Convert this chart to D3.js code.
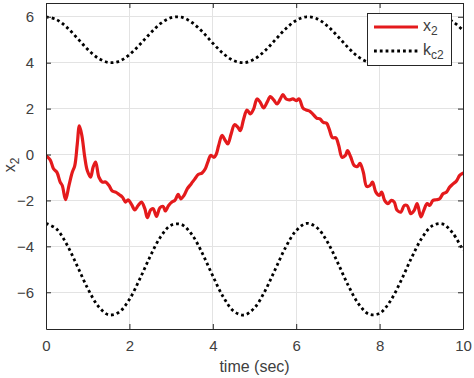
<!DOCTYPE html>
<html>
<head>
<meta charset="utf-8">
<script src="https://cdn.jsdelivr.net/npm/d3@7"></script>
<style>
  html, body { margin: 0; padding: 0; background: #fff; }
  svg { display: block; font-family: "Liberation Sans", Arial, Helvetica, sans-serif; }
</style>
</head>
<body>
<svg id="chart" width="474" height="378"></svg>
<script>
// ---- data ----
const xTicks = [0, 2, 4, 6, 8, 10];
const yTicks = [-6, -4, -2, 0, 2, 4, 6];

const x2Time = [0, 0.1, 0.18, 0.26, 0.34, 0.39, 0.47, 0.55, 0.63, 0.69, 0.75, 0.8, 0.86, 0.93, 0.99,
  1.07, 1.13, 1.19, 1.27, 1.35, 1.43, 1.51, 1.59, 1.67, 1.75, 1.83, 1.91, 1.97, 2.05, 2.13, 2.21,
  2.29, 2.37, 2.43, 2.51, 2.57, 2.65, 2.73, 2.81, 2.86, 2.94, 3.02, 3.09, 3.17, 3.23, 3.31, 3.39,
  3.48, 3.57, 3.65, 3.74, 3.82, 3.88, 3.95, 4.03, 4.08, 4.14, 4.22, 4.3, 4.36, 4.44, 4.52, 4.6,
  4.66, 4.74, 4.82, 4.9, 4.98, 5.06, 5.14, 5.22, 5.3, 5.38, 5.46, 5.54, 5.62, 5.68, 5.76, 5.83,
  5.92, 6.0, 6.07, 6.16, 6.24, 6.33, 6.41, 6.49, 6.57, 6.65, 6.73, 6.79, 6.87, 6.95, 7.02, 7.1,
  7.18, 7.23, 7.31, 7.39, 7.47, 7.53, 7.61, 7.69, 7.77, 7.83, 7.91, 7.99, 8.05, 8.12, 8.2, 8.28,
  8.35, 8.42, 8.51, 8.59, 8.66, 8.75, 8.83, 8.9, 8.99, 9.06, 9.14, 9.2, 9.28, 9.36, 9.44, 9.52,
  9.6, 9.68, 9.76, 9.84, 9.92, 10];
const x2Values = [-0.05, -0.23, -0.62, -0.77, -1.2, -1.35, -1.97, -1.35, -0.77, -0.48, 0.46, 1.25, 0.83, -0.12, -0.7,
  -0.99, -0.55, -0.33, -0.99, -1.2, -1.2, -1.35, -1.59, -1.64, -1.74, -1.85, -2.07, -1.97, -2.17, -2.41, -2.22,
  -2.07, -2.36, -2.75, -2.41, -2.36, -2.7, -2.32, -2.26, -2.46, -2.22, -2.07, -2.0, -1.74, -1.93, -1.78, -1.49,
  -1.28, -1.06, -0.87, -0.81, -0.62, -0.33, -0.04, -0.12, 0.0, 0.39, 0.83, 0.61, 0.46, 0.9, 1.3, 1.19,
  1.04, 1.55, 1.94, 1.77, 1.99, 2.42, 2.27, 2.03, 2.27, 2.52, 2.38, 2.2, 2.42, 2.61, 2.42, 2.38,
  2.42, 2.35, 2.42, 2.03, 1.94, 1.88, 1.74, 1.59, 1.55, 1.4, 1.36, 1.12, 0.73, 0.73, 0.39, -0.12,
  -0.04, 0.17, -0.12, -0.48, -0.52, -0.38, -0.77, -1.39, -1.35, -1.2, -1.64, -1.78, -1.64, -2.0, -2.14, -2.0,
  -2.07, -2.43, -2.51, -2.22, -2.22, -2.58, -2.43, -2.14, -2.72, -2.43, -2.14, -2.22, -2.0, -1.97, -1.93, -1.71,
  -1.64, -1.42, -1.28, -1.16, -0.91, -0.81];

const kTime = [0, 0.25, 0.5, 0.75, 1, 1.25, 1.5, 1.75, 2, 2.25, 2.5, 2.75, 3, 3.25, 3.5, 3.75, 4,
  4.25, 4.5, 4.75, 5, 5.25, 5.5, 5.75, 6, 6.25, 6.5, 6.75, 7, 7.25, 7.5, 7.75, 8, 8.25, 8.5, 8.75,
  9, 9.25, 9.5, 9.75, 10];
const kUpper = [6.0, 5.88, 5.54, 5.07, 4.58, 4.2, 4.01, 4.06, 4.35, 4.79, 5.28, 5.71, 5.96, 5.98, 5.75,
  5.35, 4.85, 4.4, 4.09, 4.0, 4.16, 4.52, 5.0, 5.48, 5.84, 6.0, 5.91, 5.6, 5.14, 4.65, 4.24, 4.02,
  4.04, 4.3, 4.72, 5.22, 5.66, 5.94, 5.99, 5.8, 5.41];
const kLower = [-3.0, -3.24, -3.92, -4.86, -5.83, -6.6, -6.98, -6.87, -6.31, -5.42, -4.43, -3.58, -3.08,
  -3.05, -3.49, -4.31, -5.29, -6.2, -6.82, -6.99, -6.68, -5.95, -4.99, -4.03, -3.31, -3.0, -3.19,
  -3.81, -4.73, -5.71, -6.52, -6.96, -6.92, -6.4, -5.55, -4.56, -3.68, -3.12, -3.02, -3.41, -4.18];

// ---- layout ----
const svg = d3.select("#chart");
const L = 46, R = 463, T = 3, B = 329;
const x = d3.scaleLinear().domain([0, 10]).range([L, R]);
const y = d3.scaleLinear().domain([-7.6, 6.6]).range([B, T]);
const axisColor = "#262626";
const tickColor = "#404040";

// grid
const grid = svg.append("g");
grid.selectAll(".gx").data(xTicks).join("line")
  .attr("x1", d => x(d)).attr("x2", d => x(d)).attr("y1", T).attr("y2", B)
  .attr("stroke", "#e3e3e3").attr("stroke-width", 1).attr("shape-rendering", "crispEdges");
grid.selectAll(".gy").data(yTicks).join("line")
  .attr("x1", L).attr("x2", R).attr("y1", d => y(d)).attr("y2", d => y(d))
  .attr("stroke", "#e3e3e3").attr("stroke-width", 1).attr("shape-rendering", "crispEdges");

// data lines
svg.append("clipPath").attr("id", "clip")
  .append("rect").attr("x", L).attr("y", T).attr("width", R - L).attr("height", B - T);
const plot = svg.append("g").attr("clip-path", "url(#clip)");

const kLine = d3.line().x((d, i) => x(kTime[i])).y(d => y(d)).curve(d3.curveCatmullRom);
[kUpper, kLower].forEach(arr => {
  plot.append("path").attr("d", kLine(arr)).attr("fill", "none")
    .attr("stroke", "#000").attr("stroke-width", 2.8).attr("stroke-dasharray", "2.8,3");
});

const xLine = d3.line().x((d, i) => x(x2Time[i])).y(d => y(d)).curve(d3.curveCatmullRom.alpha(0.5));
plot.append("path").attr("d", xLine(x2Values)).attr("fill", "none")
  .attr("stroke", "#e41a1c").attr("stroke-width", 3.2).attr("stroke-linejoin", "round")
  .attr("stroke-linecap", "round");

// axes (box with mirrored ticks)
const xAxisB = d3.axisBottom(x).tickValues(xTicks).tickSize(-5).tickPadding(11).tickSizeOuter(0);
const xAxisT = d3.axisTop(x).tickValues(xTicks).tickSize(-5).tickFormat("").tickSizeOuter(0);
const yAxisL = d3.axisLeft(y).tickValues(yTicks).tickSize(-5).tickPadding(12).tickSizeOuter(0);
const yAxisR = d3.axisRight(y).tickValues(yTicks).tickSize(-5).tickFormat("").tickSizeOuter(0);

function style(g) {
  g.selectAll("path.domain").attr("stroke", axisColor).attr("stroke-width", 1);
  g.selectAll(".tick line").attr("stroke", axisColor);
  g.selectAll(".tick text").attr("fill", tickColor).style("font-size", "15px")
    .style("font-family", "'Liberation Sans', Arial, sans-serif");
}
svg.append("g").attr("transform", `translate(0,${B})`).call(xAxisB).call(style);
svg.append("g").attr("transform", `translate(0,${T})`).call(xAxisT).call(style);
svg.append("g").attr("transform", `translate(${L},0)`).call(yAxisL).call(style);
svg.append("g").attr("transform", `translate(${R},0)`).call(yAxisR).call(style);

// axis labels
svg.append("text").attr("x", (L + R) / 2).attr("y", 372).attr("text-anchor", "middle")
  .attr("fill", tickColor).style("font-size", "16px").text("time (sec)");
const yl = svg.append("text").attr("transform", "translate(15,165) rotate(-90)")
  .attr("text-anchor", "middle").attr("fill", tickColor).style("font-size", "16px");
yl.append("tspan").text("x");
yl.append("tspan").attr("dy", 4).style("font-size", "12px").text("2");

// legend
const lg = svg.append("g");
lg.append("rect").attr("x", 367.5).attr("y", 13.5).attr("width", 84).attr("height", 52)
  .attr("fill", "#fff").attr("stroke", axisColor).attr("stroke-width", 1);
lg.append("line").attr("x1", 374).attr("x2", 418).attr("y1", 27).attr("y2", 27)
  .attr("stroke", "#e41a1c").attr("stroke-width", 3);
lg.append("line").attr("x1", 374).attr("x2", 418).attr("y1", 51).attr("y2", 51)
  .attr("stroke", "#000").attr("stroke-width", 2.8).attr("stroke-dasharray", "2.8,3");
const t1 = lg.append("text").attr("x", 423).attr("y", 31).attr("fill", tickColor).style("font-size", "16px");
t1.append("tspan").text("x");
t1.append("tspan").attr("dy", 4).style("font-size", "12px").text("2");
const t2 = lg.append("text").attr("x", 423).attr("y", 55).attr("fill", tickColor).style("font-size", "16px");
t2.append("tspan").text("k");
t2.append("tspan").attr("dy", 4).style("font-size", "12px").text("c2");
</script>
</body>
</html>
